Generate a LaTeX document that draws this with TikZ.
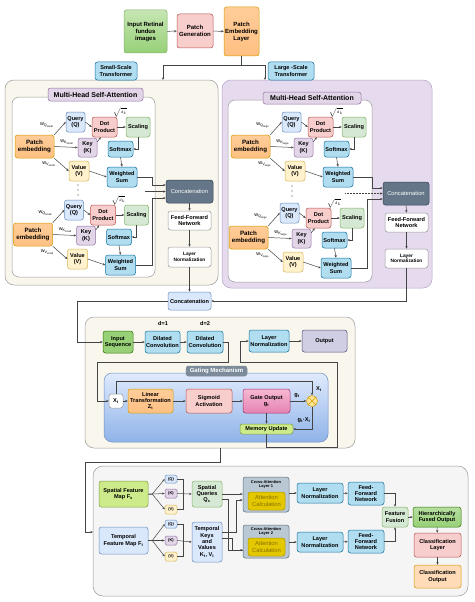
\documentclass[tikz,border=0pt]{standalone}
\usepackage{fontspec}
\usepackage{graphicx}
\setmainfont{Liberation Sans}
\usetikzlibrary{arrows.meta,calc}
\definecolor{lineC}{HTML}{444444}
\definecolor{inpT}{HTML}{C6E6B3}
\definecolor{cyanF}{HTML}{B1DDF0}\definecolor{cyanD}{HTML}{10739E}
\definecolor{blueF}{HTML}{DAE8FC}\definecolor{blueD}{HTML}{6C8EBF}
\definecolor{purpF}{HTML}{E1D5E7}\definecolor{purpD}{HTML}{9673A6}
\definecolor{yelF}{HTML}{FFF2CC}\definecolor{yelD}{HTML}{D6B656}
\definecolor{pinkF}{HTML}{F8CECC}\definecolor{pinkD}{HTML}{B85450}
\definecolor{grnF}{HTML}{D5E8D4}\definecolor{grnD}{HTML}{82B366}
\definecolor{orgF}{HTML}{FFCC99}\definecolor{orgD}{HTML}{D79B00}
\definecolor{slateF}{HTML}{647687}\definecolor{slateD}{HTML}{314354}
\definecolor{beigeF}{HTML}{F9F7ED}\definecolor{panD}{HTML}{9A9A9A}
\definecolor{purpP}{HTML}{E6DAEE}\definecolor{purpPD}{HTML}{B5A3C6}
\definecolor{limeF}{HTML}{CDEB8B}\definecolor{limeD}{HTML}{7E9E3E}
\definecolor{sgrnF}{HTML}{97D077}\definecolor{sgrnD}{HTML}{2D7600}
\definecolor{outF}{HTML}{D0CEE2}\definecolor{outD}{HTML}{56517E}
\definecolor{yelTF}{HTML}{E3C800}\definecolor{yelTD}{HTML}{B09500}
\definecolor{yelTT}{HTML}{8A6D00}
\definecolor{caF}{HTML}{BAC8D3}\definecolor{caD}{HTML}{5A6F80}
\definecolor{grayP}{HTML}{F5F5F5}
\definecolor{mulF}{HTML}{FFE599}
\definecolor{gateT}{HTML}{F7B8D2}\definecolor{gateB}{HTML}{E483B3}\definecolor{gateD}{HTML}{A0306A}
\definecolor{gtop}{HTML}{DFEAFD}\definecolor{gbot}{HTML}{8FB3E8}
\newcommand\fs{\fontsize{5.6}{6.4}\selectfont\bfseries}
\newcommand\fl{\fontsize{6.2}{7}\selectfont\bfseries}
\newcommand\fsm{\fontsize{4.8}{5.6}\selectfont\bfseries}
\newcommand\ft{\fontsize{4}{4.6}\selectfont\bfseries}
\newcommand\bx[7]{\node[#6, minimum width={#4-#2}, minimum height={#5-#3}] (#1) at ({(#2+#4)/2},{(#3+#5)/2}) {#7};}
\newcommand\wlab[2]{w\textsubscript{#1\textsubscript{#2}}}
\tikzset{
 base/.style={draw, rounded corners=2.5pt, line width=0.5pt, inner sep=0pt, align=center, font=\fs, text=black},
 cyanb/.style={base, fill=cyanF, draw=cyanD},
 blueb/.style={base, fill=blueF, draw=blueD},
 purpb/.style={base, fill=purpF, draw=purpD},
 yelb/.style={base, fill=yelF, draw=yelD},
 pinkb/.style={base, fill=pinkF, draw=pinkD},
 greenlb/.style={base, fill=grnF, draw=grnD},
 orangeb/.style={base, top color=orgF, bottom color=orgF!85!orange, draw=orgD},
 whiteb/.style={base, fill=white, draw=panD},
 slateb/.style={base, fill=slateF, draw=slateD, text=white, font=\fontsize{5.8}{6.6}\selectfont},
 limeb/.style={base, fill=limeF, draw=limeD},
 sgrnb/.style={base, fill=sgrnF, draw=sgrnD},
 panel/.style={draw=panD, line width=0.5pt, rounded corners=9pt, inner sep=0pt},
 lab/.style={inner sep=0pt, font=\fontsize{5.3}{6}\selectfont},
 arr/.style={draw=lineC, line width=0.5pt, -{Stealth[length=2.6pt,width=2.2pt]}},
 ln/.style={draw=lineC, line width=0.5pt},
}
\newcommand\head[4]{%
\begin{scope}[shift={(#2,#3)}]
\bx{#1pe}{15}{135}{54}{158}{orangeb,font=\fl}{Patch\\embedding}
\bx{#1q}{66}{112}{85}{132}{blueb}{Query\\(Q)}
\bx{#1k}{78}{138}{97}{157}{purpb}{Key\\(K)}
\bx{#1v}{69}{161}{89}{181}{yelb}{Value\\(V)}
\bx{#1dp}{92}{117}{117}{137}{pinkb}{Dot\\Product}
\bx{#1sc}{126}{117}{150}{137}{greenlb}{Scaling}
\bx{#1sm}{108}{141}{133}{157}{cyanb}{Softmax}
\bx{#1ws}{107}{167}{137}{187}{cyanb}{Weighted\\Sum}
\node[lab] (#1dk) at (120,112.5) {\scalebox{0.75}{$\sqrt{d_k}$}};
\node[lab] (#1wq) at (47,125) {\wlab{Q}{#4}};
\node[lab] (#1wk) at (67,142) {\wlab{K}{#4}};
\node[lab] (#1wv) at (49,164) {\wlab{V}{#4}};
\draw[arr] (#1pe.north east) -- (#1q.west);
\draw[arr] (#1pe.east) -- (#1k.west);
\draw[arr] (#1pe.south east) -- (#1v.west);
\draw[arr] (#1q.east) -- (#1dp.west);
\draw[arr] (#1k.30) -- (#1dp.-110);
\draw[arr] (#1dp.east) -- (#1sc.west);
\draw[arr] (#1sc.south) |- (#1sm.east);
\draw[arr] (#1sm.south) -- (#1ws.north);
\draw[arr] (#1v.east) -- (#1ws.west);
\end{scope}}
\begin{document}
\begin{tikzpicture}[x=1pt,y=-1pt]
\useasboundingbox (0,0) rectangle (474,602);
\fill[white] (0,0) rectangle (474,602);
% top row
\bx{inp}{124}{10}{167}{53}{base,top color=inpT,bottom color=sgrnF,draw=grnD,font=\fontsize{6}{7}\selectfont\bfseries}{Input Retinal\\fundus\\images}
\bx{pg}{177}{14}{213}{48}{pinkb,font=\fontsize{6}{7}\selectfont\bfseries}{Patch\\Generation}
\bx{pe}{224}{7}{259}{56}{orangeb,font=\fontsize{6}{7}\selectfont\bfseries}{Patch\\Embedding\\Layer}
\draw[arr] (inp) -- (pg);
\draw[arr] (pg) -- (pe);
\coordinate (split) at (241.5,65);
\coordinate (ltin) at (163,80);
\coordinate (rtin) at (265,80);
\draw[ln] (pe.south) -- (split);
\draw[arr] (split) -| (ltin);
\draw[arr] (split) -| (rtin);
% panels
\bx{lp}{5}{80}{218}{285}{panel,fill=beigeF}{}
\bx{rp}{222}{80}{432}{288}{panel,fill=purpP,draw=purpPD}{}
\bx{li}{12}{97}{155}{277}{panel,fill=white,draw=panD,rounded corners=7pt}{}
\bx{ri}{228}{100}{372}{282}{panel,fill=white,draw=panD,rounded corners=7pt}{}
\bx{sst}{95}{62}{137}{80}{cyanb}{Small-Scale\\Transformer}
\bx{lst}{268}{62}{314}{80}{cyanb}{Large -Scale\\Transformer}
\bx{lm}{48}{88}{143}{101}{purpb,font=\fontsize{7}{8}\selectfont\bfseries}{Multi-Head Self-Attention}
\bx{rm}{263}{92}{361}{104}{purpb,font=\fontsize{7}{8}\selectfont\bfseries}{Multi-Head Self-Attention}
% heads
\head{a}{0}{0}{small}
\head{b}{-1.5}{88}{small}
\head{c}{216}{0}{large}
\head{d}{214}{91}{large}
\foreach \yy in {185,190,195} {\fill[lineC] (78,\yy) circle (0.7pt);}
\foreach \yy in {186,191,196} {\fill[lineC] (292,\yy) circle (0.7pt);}
% left concat chain
\bx{cc1}{166}{180}{213}{203}{slateb}{Concatenation}
\bx{ffn1}{168}{211}{211}{230}{whiteb}{Feed-Forward\\Network}
\bx{ln1}{168}{247}{211}{267}{whiteb,font=\fsm}{Layer\\Normalization}
\coordinate (m1) at (145,191.5);
\draw[arr] (aws.east) -- ++(15,0) |- ([yshift=6.5pt]cc1.west);
\draw[arr] (bws.east) -- ++(16.5,0) |- ([yshift=-6.5pt]cc1.west);
\draw[arr] (m1) -- (cc1.west);
\draw[arr] (cc1) -- (ffn1);
\draw[arr] (ffn1) -- (ln1);
% right concat chain
\bx{cc2}{383}{182}{429}{205}{slateb}{Concatenation}
\bx{ffn2}{385}{213}{428}{232}{whiteb}{Feed-Forward\\Network}
\bx{ln2}{385}{249}{428}{268}{whiteb,font=\fsm}{Layer\\Normalization}
\coordinate (m2) at (345,193.5);
\draw[arr] (cws.east) -- ++(19,0) |- ([yshift=5.5pt]cc2.west);
\draw[arr] (dws.east) -- ++(16,0) |- ([yshift=-5.5pt]cc2.west);
\draw[arr,densely dotted] (m2) -- (cc2.west);
\draw[arr] (cc2) -- (ffn2);
\draw[arr] (ffn2) -- (ln2);
% bottom concatenation
\bx{ccb}{168}{292}{211}{310}{blueb}{Concatenation}
\draw[arr] (ln1.south) -- (ccb.north);
\draw[arr] (ln2.south) |- (ccb.east);
\coordinate (j1) at (77,301);
% dilated panel
\bx{dpn}{85}{317}{355}{448}{panel,fill=beigeF}{}
\node[lab,font=\fs] (d1) at (163,323) {d=1};
\node[lab,font=\fs] (d2) at (205,323) {d=2};
\bx{inseq}{103}{331}{133}{353}{sgrnb}{Input\\Sequence}
\bx{dc1}{145}{331}{180}{353}{cyanb}{Dilated\\Convolution}
\bx{dc2}{187}{331}{223}{353}{cyanb}{Dilated\\Convolution}
\bx{lnd}{249}{330}{289}{352}{cyanb}{Layer\\Normalization}
\bx{outd}{302}{330}{347}{352}{base,fill=outF,draw=outD}{Output}
\draw[arr] (ccb.west) -- (j1) |- (inseq.west);
\draw[arr] (inseq) -- (dc1);
\draw[arr] (dc1) -- (dc2);
\draw[arr] (lnd) -- (outd);
% gating
\bx{gp}{104}{373}{328}{442}{panel,top color=gtop,bottom color=gbot,draw=blueD,rounded corners=8pt}{}
\bx{gl}{186}{366}{247}{376}{base,fill=slateF!85!white,draw=slateF!85!white,text=white,font=\fontsize{6}{7}\selectfont\bfseries}{Gating Mechanism}
\bx{xt}{109}{394}{123}{408}{base,fill=white,draw=panD}{X\textsubscript{t}}
\bx{lt}{128}{389}{173}{413}{orangeb,font=\fontsize{5.6}{6.2}\selectfont\bfseries}{Linear\\Transformation\\Z\textsubscript{t}}
\bx{sig}{186}{389}{232}{413}{pinkb}{Sigmoid\\Activation}
\bx{go}{243}{389}{290}{413}{base,top color=gateT,bottom color=gateB,draw=gateD}{Gate Output\\g\textsubscript{t}}
\node[circle, draw=orgD, fill=mulF, line width=0.5pt, minimum size=11pt, inner sep=0pt] (mul) at (312,401) {};
\draw[orgD, line width=0.5pt] (mul.north west) -- (mul.south east) (mul.north east) -- (mul.south west);
\bx{mu}{240}{424}{293}{434}{limeb}{Memory Update}
\node[lab,font=\fs] (lgt) at (297,396) {g\textsubscript{t}};
\node[lab,font=\fs] (lxt) at (319,389) {X\textsubscript{t}};
\node[lab,font=\fs] (lgx) at (304,420) {g\textsubscript{t}·X\textsubscript{t}};
\coordinate (q2) at (228,362);
\coordinate (q3) at (97,362);
\draw[arr] (dc2.east) -| (q2) -- (q3) |- (xt.west);
\draw[arr] (xt.north) -- ++(0,-13) -| (mul.north);
\draw[arr] (xt) -- (lt);
\draw[arr] (lt) -- (sig);
\draw[arr] (sig) -- (go);
\draw[arr] (go) -- (mul);
\draw[arr] (go.south) -- (mu.north);
\draw[arr] (mul.south) |- (mu.east);
\coordinate (r1) at (337,447);
\coordinate (r2) at (337,362);
\coordinate (r3) at (240,362);
\draw[arr] (mu.south) |- (r1) -- (r2) -- (r3) |- (lnd.west);
% bottom panel
\bx{bp}{93}{466}{468}{596}{panel,fill=grayP,draw=panD,rounded corners=10pt}{}
\coordinate (b1) at (220,448);
\coordinate (b2) at (85,462);
\coordinate (bpin) at (93,532);
\draw[arr] (b1) |- (b2) |- (bpin);
\bx{sfm}{99}{481}{148}{507}{limeb}{Spatial Feature\\Map F\textsubscript{s}}
\bx{tfm}{99}{527}{148}{554}{blueb}{Temporal\\Feature Map F\textsubscript{t}}
\bx{sq1}{165}{475}{177}{483}{blueb,font=\ft,rounded corners=1.5pt}{(Q)}
\bx{sk1}{165}{489}{177}{498}{purpb,font=\ft,rounded corners=1.5pt}{(K)}
\bx{sv1}{165}{505}{177}{514}{yelb,font=\ft,rounded corners=1.5pt}{(V)}
\bx{tq1}{165}{520}{177}{528}{blueb,font=\ft,rounded corners=1.5pt}{(Q)}
\bx{tk1}{165}{536}{177}{545}{purpb,font=\ft,rounded corners=1.5pt}{(K)}
\bx{tv1}{165}{552}{177}{561}{yelb,font=\ft,rounded corners=1.5pt}{(V)}
\bx{ssq}{192}{481}{222}{507}{greenlb}{Spatial\\Queries\\Q\textsubscript{s}}
\bx{tkv}{192}{522}{222}{562}{blueb}{Temporal\\Keys\\and\\Values\\K\textsubscript{t}, V\textsubscript{t}}
\foreach \n in {sq1,sk1,sv1} {\draw[arr] (sfm.east) -- ++(4,0) -- (\n.west);}
\foreach \n in {tq1,tk1,tv1} {\draw[arr] (tfm.east) -- ++(4,0) -- (\n.west);}
\draw[ln] (sq1.east) -- ++(6,0) |- (sv1.east);
\draw[ln] (tq1.east) -- ++(6,0) |- (tv1.east);
\draw[arr] (sk1.east) -- (ssq.west);
\draw[arr] (tk1.east) -- (tkv.west);
% cross attention
\bx{ca1}{243}{477}{289}{512}{base,fill=caF,draw=caD}{}
\bx{ca2}{243}{525}{289}{558}{base,fill=caF,draw=caD}{}
\node[lab,font=\ft,align=center] (ct1) at (266,484.5) {Cross-Attention\\Layer 1};
\node[lab,font=\ft,align=center] (ct2) at (266,531.5) {Cross-Attention\\Layer 2};
\bx{att1}{248}{492}{285}{510}{base,fill=yelTF,draw=yelTD,text=yelTT,font=\fontsize{5.8}{6.6}\selectfont}{Attention\\Calculation}
\bx{att2}{248}{538}{285}{556}{base,fill=yelTF,draw=yelTD,text=yelTT,font=\fontsize{5.8}{6.6}\selectfont}{Attention\\Calculation}
\draw[arr] (ssq.east) -- (ssq.east -| ca1.west);
\draw[arr] ([yshift=-5pt]ssq.east) -- ++(6,0) |- ([yshift=-8.5pt]ca2.west);
\draw[arr] ([yshift=10pt]tkv.east) -- ++(14,0) |- ([yshift=-5.5pt]ca1.west);
\draw[ln] ([yshift=4pt]tkv.east) -- ++(10,0) |- ([yshift=-8.5pt]ca2.west);
\bx{ln3}{297}{483}{343}{503}{cyanb}{Layer\\Normalization}
\bx{ln4}{297}{532}{343}{552}{cyanb}{Layer\\Normalization}
\bx{ffn3}{348}{482}{384}{505}{cyanb}{Feed-\\Forward\\Network}
\bx{ffn4}{348}{530}{384}{553}{cyanb}{Feed-\\Forward\\Network}
\bx{ff}{382}{507}{408}{527}{greenlb}{Feature\\Fusion}
\bx{hfo}{413}{507}{461}{527}{base,top color=sgrnF!70!white,bottom color=sgrnF,draw=sgrnD}{Hierarchically\\Fused Output}
\bx{cl}{414}{533}{461}{557}{pinkb}{Classification\\Layer}
\bx{co}{414}{565}{461}{588}{base,fill=orgF!70!white,draw=orgD}{Classification\\Output}
\draw[arr] (ca1.east |- ln3.west) -- (ln3.west);
\draw[arr] (ca2.east |- ln4.west) -- (ln4.west);
\draw[arr] (ln3) -- (ffn3);
\draw[arr] (ln4) -- (ffn4);
\draw[arr] (ffn3.east) -| (ff.north);
\draw[arr] (ffn4.east) -| (ff.south);
\draw[arr] (ff) -- (hfo);
\draw[arr] (hfo) -- (cl);
\draw[arr] (cl) -- (co);
\end{tikzpicture}
\end{document}
